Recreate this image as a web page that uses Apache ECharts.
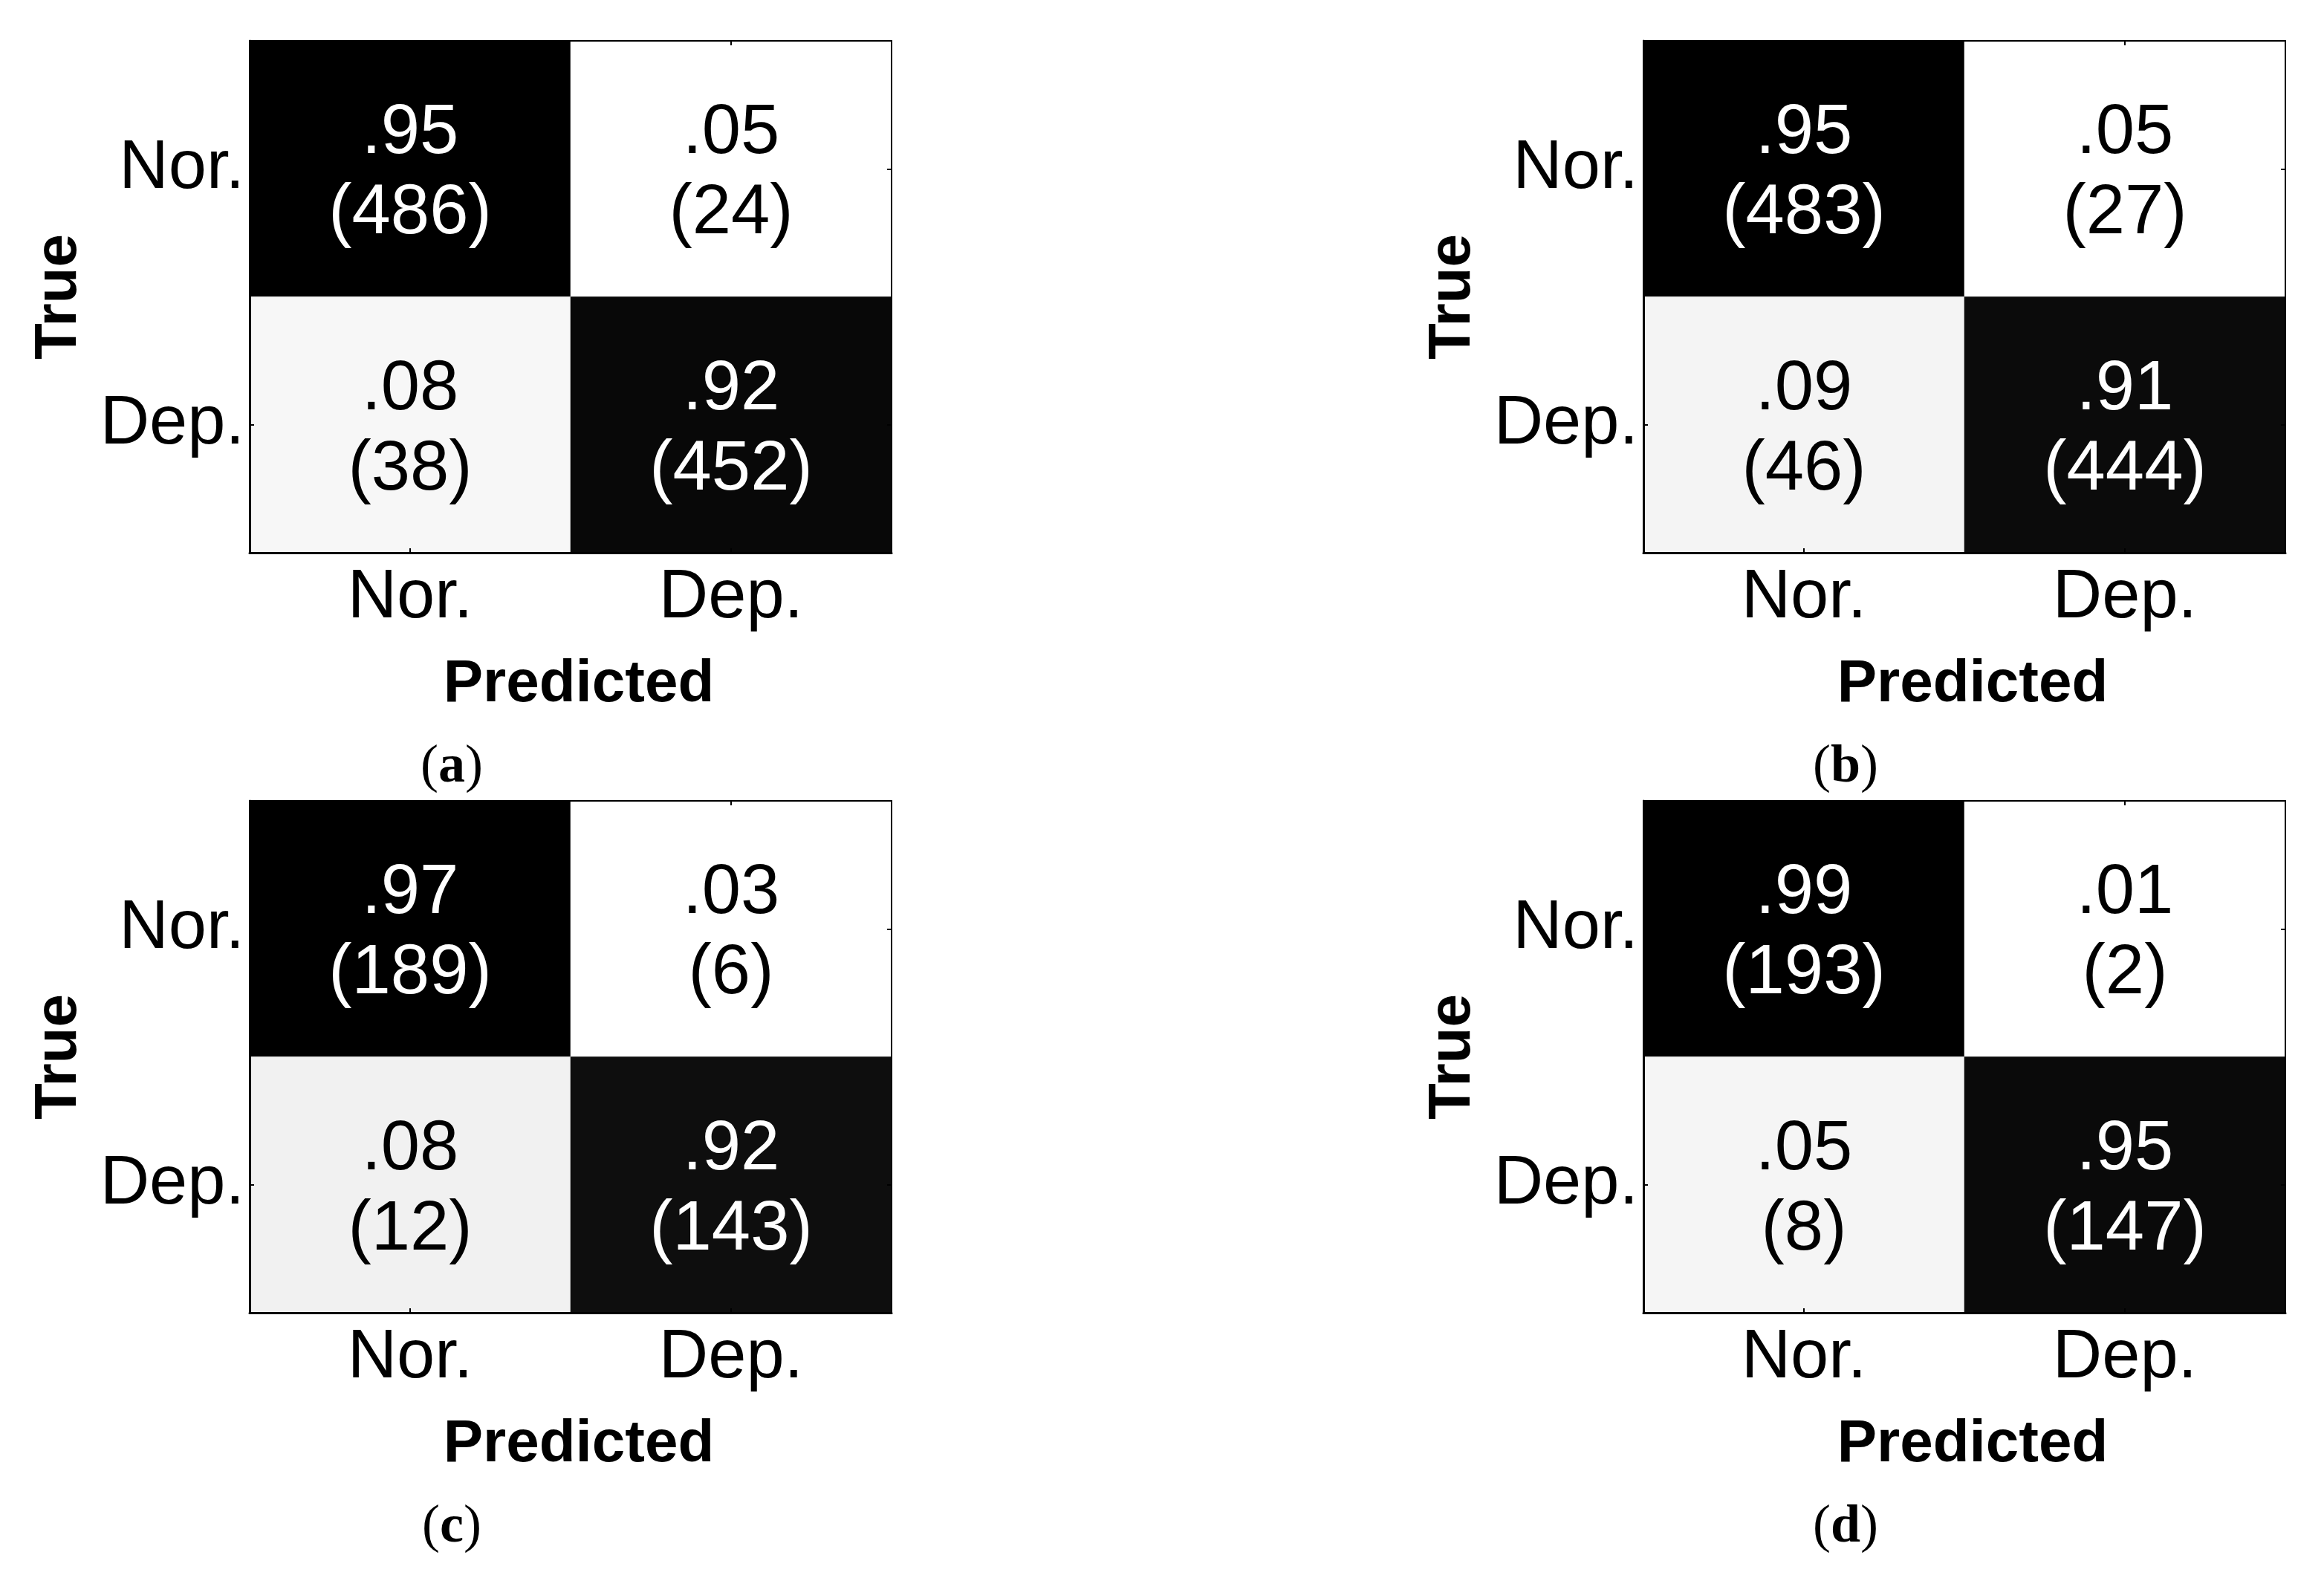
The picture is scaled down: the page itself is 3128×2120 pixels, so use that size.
<!DOCTYPE html>
<html><head><meta charset="utf-8">
<script src="https://cdn.jsdelivr.net/npm/echarts@6/dist/echarts.min.js"></script>
<style>html,body{margin:0;padding:0;background:#fff}#c{width:3128px;height:2120px}</style>
</head><body><div id="c"></div>
<script>
// ---- data ----
const predictedCats = ['Nor.', 'Dep.'];
const trueCats = ['Nor.', 'Dep.'];
const panelLetters = ['a', 'b', 'c', 'd'];
// rows = true class, cols = predicted class
const ratesA = [[0.95, 0.05], [0.08, 0.92]];
const countsA = [[486, 24], [38, 452]];
const ratesB = [[0.95, 0.05], [0.09, 0.91]];
const countsB = [[483, 27], [46, 444]];
const ratesC = [[0.97, 0.03], [0.08, 0.92]];
const countsC = [[189, 6], [12, 143]];
const ratesD = [[0.99, 0.01], [0.05, 0.95]];
const countsD = [[193, 2], [8, 147]];
const allRates = [ratesA, ratesB, ratesC, ratesD];
const allCounts = [countsA, countsB, countsC, countsD];

// ---- layout ----
const GW = 864, GH = 689;
const gridPos = [[336, 55], [2212, 55], [336, 1078], [2212, 1078]];
const SANS = 'Liberation Sans, Arial, Helvetica, sans-serif';
const SERIF = 'Liberation Serif, Times New Roman, serif';

function fmtRate(v) { return v.toFixed(2).replace(/^0/, ''); }

const grid = [], xAxis = [], yAxis = [], series = [], visualMap = [], graphic = [];
allRates.forEach((rates, i) => {
  const [gl, gt] = gridPos[i];
  grid.push({ left: gl, top: gt, width: GW, height: GH, show: true, borderColor: '#000', borderWidth: 2, backgroundColor: 'transparent', z: 10 });
  const tick = { show: true, inside: true, length: 6, alignWithLabel: true, lineStyle: { color: '#000', width: 2 } };
  xAxis.push({
    type: 'category', gridIndex: i, position: 'bottom', data: predictedCats, z: 10,
    axisLine: { show: true, lineStyle: { color: '#000', width: 3 } },
    axisTick: tick, splitLine: { show: false },
    axisLabel: { fontSize: 92, color: '#000', fontFamily: SANS, margin: 16 },
    name: 'Predicted', nameLocation: 'middle', nameGap: 138,
    nameTextStyle: { fontSize: 80, fontWeight: 'bold', color: '#000', fontFamily: SANS, padding: [0, 0, 0, 22] }
  });
  xAxis.push({
    type: 'category', gridIndex: i, position: 'top', data: predictedCats, z: 10,
    axisLine: { show: true, lineStyle: { color: '#000', width: 2 } },
    axisTick: tick, axisLabel: { show: false }, splitLine: { show: false }
  });
  yAxis.push({
    type: 'category', gridIndex: i, position: 'left', data: trueCats, inverse: true, z: 10,
    axisLine: { show: true, lineStyle: { color: '#000', width: 3 } },
    axisTick: tick, splitLine: { show: false },
    axisLabel: { fontSize: 92, color: '#000', fontFamily: SANS, margin: 7, padding: [10, 0, 0, 0] },
    name: 'True', nameLocation: 'middle', nameGap: 216,
    nameTextStyle: { fontSize: 80, fontWeight: 'bold', color: '#000', fontFamily: SANS }
  });
  yAxis.push({
    type: 'category', gridIndex: i, position: 'right', data: trueCats, inverse: true, z: 10,
    axisLine: { show: true, lineStyle: { color: '#000', width: 2 } },
    axisTick: tick, axisLabel: { show: false }, splitLine: { show: false }
  });
  const flat = [].concat(...rates);
  const counts = allCounts[i];
  const data = [];
  rates.forEach((row, r) => row.forEach((v, c) => {
    data.push({ value: [c, r, v], label: { color: v > 0.5 ? '#ffffff' : '#000000' } });
  }));
  series.push({
    type: 'heatmap', xAxisIndex: 2 * i, yAxisIndex: 2 * i, data,
    itemStyle: { borderWidth: 0 },
    emphasis: { disabled: true },
    label: {
      show: true, fontSize: 94, lineHeight: 108, fontFamily: SANS, offset: [0, 7],
      formatter: p => fmtRate(p.value[2]) + '\n(' + counts[p.value[1]][p.value[0]] + ')'
    }
  });
  visualMap.push({
    type: 'continuous', seriesIndex: i, dimension: 2, show: false,
    min: Math.min(...flat), max: Math.max(...flat),
    inRange: { color: ['#ffffff', '#000000'] }
  });
  graphic.push({
    type: 'text', x: gl + GW / 2 - 160, y: gt + 978,
    style: {
      text: '{p|(}{b|' + panelLetters[i] + '}{p|)}', align: 'center', verticalAlign: 'middle',
      rich: {
        p: { fontFamily: SERIF, fontSize: 72, color: '#000' },
        b: { fontFamily: SERIF, fontSize: 72, fontWeight: 'bold', color: '#000' }
      }
    }
  });
});

const chart = echarts.init(document.getElementById('c'), null, { renderer: 'canvas' });
chart.setOption({ animation: false, backgroundColor: '#ffffff', grid, xAxis, yAxis, series, visualMap, graphic });
</script></body></html>
